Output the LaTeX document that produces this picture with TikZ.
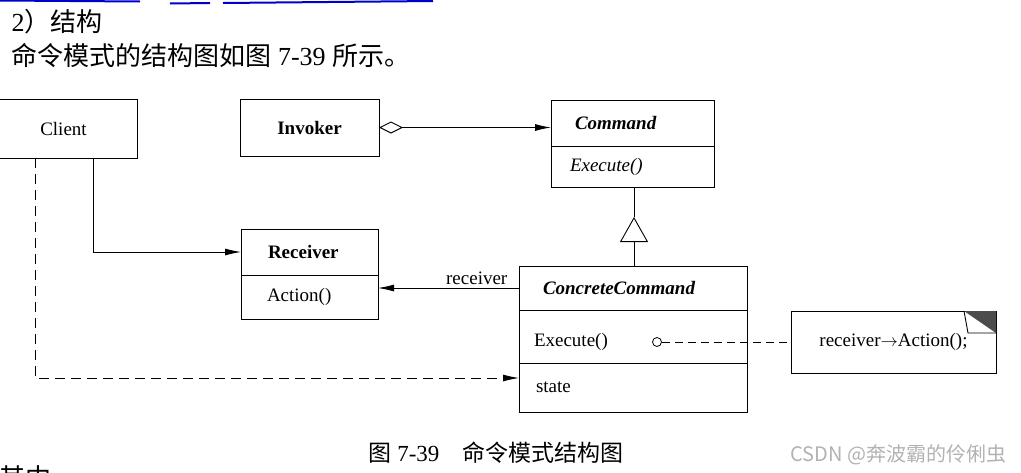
\documentclass[tikz,border=0pt]{standalone}
\usepackage{fontspec}
\setmainfont{Liberation Serif}
\newfontfamily\cjk{Noto Sans CJK SC}
\usetikzlibrary{arrows.meta}

\tikzset{
  cls/.style={draw, line width=0.9pt, anchor=north west, inner sep=0pt, outer sep=0pt},
  part/.style={cls, align=left},
  uses/.style={line width=0.9pt, -{Latex[length=16pt,width=7pt]}},
  dep/.style={uses, dash pattern=on 10pt off 6pt},
  pen/.style={blue!80!black, line width=2pt},
}

\begin{document}
\begin{tikzpicture}[x=1pt, y=-1pt, font=\fontsize{19}{22}\selectfont]
\useasboundingbox (0,0) rectangle (1021,472);
\draw[pen] (0,0.5) -- (140,1.5);
\draw[pen] (170,3.5) -- (210,3);
\draw[pen] (223,3) -- (433,1);
\node[anchor=base west, font=\fontsize{26}{30}\selectfont] (sec) at (8,31) {2{\cjk ）结构}};
\node[anchor=base west, font=\fontsize{26}{30}\selectfont] (intro) at (8,65) {{\cjk 命令模式的结构图如图} 7-39 {\cjk 所示。}};

\node[cls, minimum width=147pt, minimum height=59pt] (cli) at (-10,99) {Client};
\node[cls, minimum width=139pt, minimum height=57pt] (inv) at (240,99) {\textbf{Invoker}};
\node[part, inner xsep=24pt, text width=115pt, minimum height=46pt] (cmd) at (551,100) {\textbf{\textit{Command}}};
\node[part, inner xsep=19pt, text width=125pt, minimum height=41pt] (cmdop) at (cmd.south west) {\textit{Execute()}};
\node[part, inner xsep=27pt, text width=83pt, minimum height=46pt] (rcv) at (241,229) {\textbf{Receiver}};
\node[part, inner xsep=26pt, text width=85pt, minimum height=44pt] (rcvop) at (rcv.south west) {Action()};
\node[part, inner xsep=24pt, text width=180pt, minimum height=44pt] (cc) at (519,266) {\textbf{\textit{ConcreteCommand}}};
\node[part, inner xsep=15pt, text width=198pt, minimum height=53pt, text height=19pt, text depth=0pt] (ccop) at (cc.south west) {Execute()};
\node[part, inner xsep=17pt, text width=194pt, minimum height=49pt] (ccst) at (ccop.south west) {state};
\node[cls, minimum width=205pt, minimum height=62pt] (note) at (791,311) {receiver$\rightarrow$Action();};
\node[circle, draw, fill=white, line width=0.8pt, minimum size=9pt, inner sep=0pt] (dot) at (657,342) {};
\coordinate (tri) at (634,217);

\draw[line width=0.9pt, {Diamond[open,length=24pt,width=12pt]}-{Latex[length=16pt,width=7pt]}] (inv.east) -- (inv.east -| cmd.west);
\draw[line width=0.9pt, -{Triangle[open,length=25pt,width=28pt]}] (cc.north -| tri) -- (tri);
\draw[line width=0.9pt] (tri) -- (cmdop.south -| tri);
\draw[uses] (cc.west) -- (cc.west -| rcvop.east) node[pos=0.3, above] {receiver};
\draw[uses] ([xshift=29.5pt]cli.south) |- (rcv.west);
\draw[dep] ([xshift=-28.5pt]cli.south) |- ([yshift=9.5pt]ccst.west);
\draw[line width=0.9pt, dash pattern=on 8pt off 5pt] (dot) -- (note.west);
\fill[gray!60!black] ([xshift=-32pt]note.north east) -- (note.north east) -- ([yshift=-22pt]note.north east) -- cycle;
\draw[line width=0.9pt] ([xshift=-32pt]note.north east) -- ([xshift=-28pt,yshift=-22pt]note.north east) -- ([yshift=-22pt]note.north east);

\node[anchor=base west, font=\fontsize{23}{26}\selectfont] (cap) at (365,461) {{\cjk 图} 7-39\quad{\cjk 命令模式结构图}};
\node[anchor=base east, text=gray!60, font=\cjk\fontsize{20}{24}\selectfont] (wm) at (1010,461) {CSDN @奔波霸的伶俐虫};
\node[anchor=base west, font=\fontsize{26}{30}\selectfont] (rest) at (-4,487) {\cjk 其中};
\end{tikzpicture}
\end{document}
